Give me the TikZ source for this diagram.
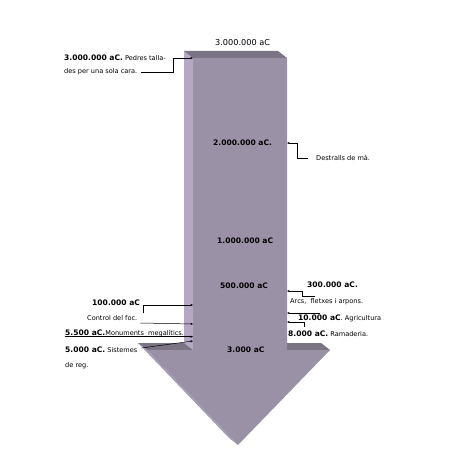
\documentclass[tikz,border=0pt]{standalone}
\usepackage{fontspec}
\setmainfont{DejaVu Sans}
\usetikzlibrary{arrows.meta}
\definecolor{frontc}{RGB}{155,145,166}
\definecolor{sidec}{RGB}{180,168,196}
\definecolor{topc}{RGB}{122,116,132}
\definecolor{headside}{RGB}{166,156,180}
\newcommand{\bnumf}{\fontsize{7.6}{9}\selectfont\bfseries}
\newcommand{\rtxtf}{\fontsize{6.6}{8}\selectfont\mdseries}
\begin{document}
\begin{tikzpicture}[x=1bp,y=-1bp,
  lbl/.style={inner sep=0, anchor=west},
  con/.style={draw=black, line width=0.5bp},
  arr/.style={con, -{Stealth[length=2.6bp,width=2.2bp]}}]
\useasboundingbox (0,0) rectangle (453,453);
% ---- 3D arrow ----
\fill[sidec] (184,51) -- (193,58) -- (193,350) -- (184,343) -- cycle;
\fill[topc] (184,51) -- (278,51) -- (287,58) -- (193,58) -- cycle;
\fill[topc] (138,343) -- (184,343) -- (193,350) -- (147,350) -- cycle;
\fill[topc] (278,343) -- (321,343) -- (330,350) -- (287,350) -- cycle;
\fill[headside] (138,343) -- (147,350) -- (238,445) -- (229,438) -- cycle;
\fill[frontc] (193,58) -- (287,58) -- (287,350) -- (330,350) -- (238,445) -- (147,350) -- (193,350) -- cycle;
% ---- target points ----
\coordinate (p1) at (193,58);
\coordinate (k1) at (173,58);
\coordinate (p2) at (287,143);
\coordinate (k2) at (297,143);
\coordinate (p3) at (287,291);
\coordinate (k3) at (302,291);
\coordinate (s3) at (315,296);
\coordinate (p4) at (287,313);
\coordinate (s4) at (320,313);
\coordinate (p5) at (287,322);
\coordinate (k5) at (304,322);
\coordinate (s5) at (304,327);
\coordinate (p6) at (193,305);
\coordinate (k6) at (143,305);
\coordinate (s6) at (143,313);
\coordinate (p7) at (193,324);
\coordinate (p8) at (193,337);
\coordinate (p9) at (193,341);
% ---- labels ----
\node[lbl, font=\fontsize{8.2}{10}\selectfont] (top) at (215,43) {3.000.000 aC};
\node[lbl] (a1) at (64,58) {{\bnumf 3.000.000 aC.}{\rtxtf\ Pedres talla-}};
\node[lbl] (a2) at (64,72) {\rtxtf des per una sola cara.};
\node[lbl] (b1) at (213,143) {\bnumf 2.000.000 aC.};
\node[lbl] (b2) at (316,158) {\rtxtf Destralls de mà.};
\node[lbl] (c1) at (217,241) {\bnumf 1.000.000 aC};
\node[lbl] (d1) at (220,286) {\bnumf 500.000 aC};
\node[lbl] (e1) at (307,285) {\bnumf 300.000 aC.};
\node[lbl] (e2) at (290,302) {\rtxtf Arcs,\ \ fletxes i arpons.};
\node[lbl] (f1) at (298,318) {{\bnumf 10.000 aC}{\rtxtf . Agricultura}};
\node[lbl] (g1) at (288,334) {{\bnumf 8.000 aC.}{\rtxtf\ Ramaderia.}};
\node[lbl] (h1) at (92,303) {\bnumf 100.000 aC};
\node[lbl] (h2) at (87,318) {\rtxtf Control del foc.};
\node[lbl] (i1) at (65,333) {{\bnumf 5.500 aC.}{\rtxtf Monuments\ \ megalítics.}};
\node[lbl] (j1) at (65,350) {{\bnumf 5.000 aC.}{\rtxtf\ Sistemes}};
\node[lbl] (j2) at (65,366) {\rtxtf de reg.};
\node[lbl] (k0) at (227,350) {\bnumf 3.000 aC};
% ---- connectors ----
\draw[arr] ([xshift=4bp]a2.east) -| (k1) -- (p1);
\draw[arr] ([xshift=-8bp]b2.west) -| (k2) -- (p2);
\draw[arr] (s3) -| (k3) -- (p3);
\draw[arr] (s4) -- (p4);
\draw[arr] (s5) -- (k5) -- (p5);
\draw[arr] (s6) -- (k6) -- (p6);
\draw[arr] ([xshift=3bp]h2.east) ++(0,5) -- (p7);
\draw[arr] (i1.south west) -- (i1.south west -| p8);
\draw[arr] ([xshift=4bp]j1.east) ++(0,-2) -- (p9);
\end{tikzpicture}
\end{document}
